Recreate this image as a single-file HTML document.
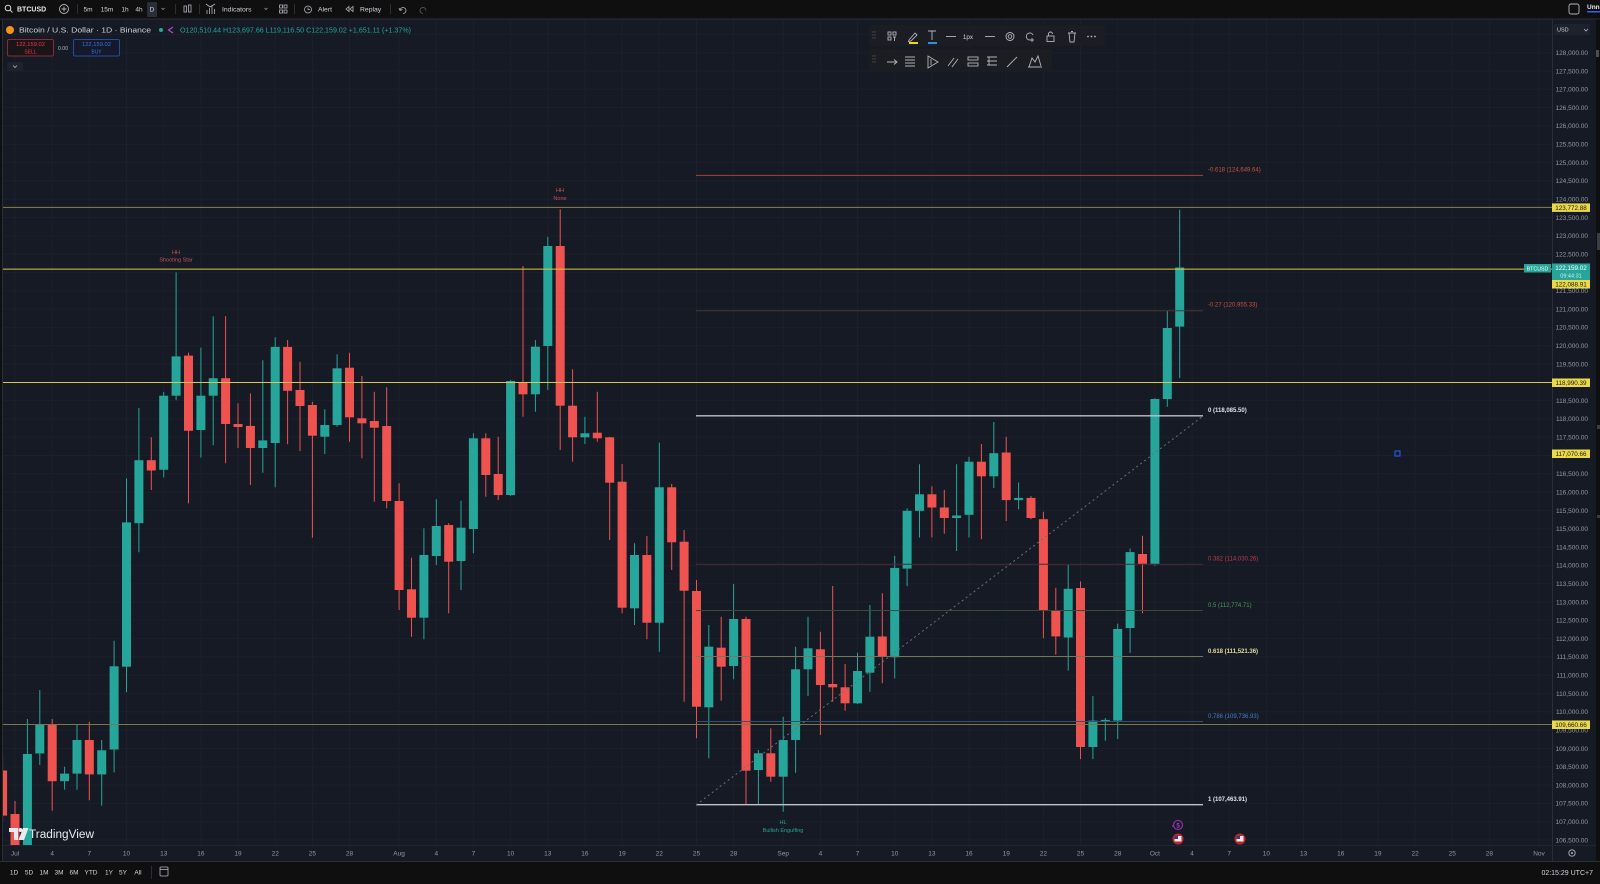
<!DOCTYPE html>
<html><head><meta charset="utf-8"><style>
html,body{margin:0;padding:0;background:#151a25;width:1600px;height:884px;overflow:hidden}
svg{display:block}
text{font-family:"Liberation Sans",sans-serif}
</style></head><body>
<svg width="1600" height="884" viewBox="0 0 1600 884" xmlns="http://www.w3.org/2000/svg">
<defs><clipPath id="cc"><rect x="3" y="19" width="1549" height="826"/></clipPath></defs>
<rect width="1600" height="884" fill="#151a25"/>
<g clip-path="url(#cc)">
<path stroke="#1c202b" stroke-width="1" fill="none" d="M3 16H1552M3 34.4H1552M3 52.7H1552M3 71H1552M3 89.3H1552M3 107.6H1552M3 125.9H1552M3 144.3H1552M3 162.6H1552M3 180.9H1552M3 199.2H1552M3 217.5H1552M3 235.8H1552M3 254.1H1552M3 272.4H1552M3 290.7H1552M3 309H1552M3 327.4H1552M3 345.7H1552M3 364H1552M3 382.3H1552M3 400.6H1552M3 418.9H1552M3 437.2H1552M3 455.5H1552M3 473.8H1552M3 492.1H1552M3 510.5H1552M3 528.8H1552M3 547.1H1552M3 565.4H1552M3 583.7H1552M3 602H1552M3 620.3H1552M3 638.6H1552M3 656.9H1552M3 675.2H1552M3 693.6H1552M3 711.9H1552M3 730.2H1552M3 748.5H1552M3 766.8H1552M3 785.1H1552M3 803.4H1552M3 821.7H1552M3 840H1552"/>
<path stroke="#1c202b" stroke-width="1" fill="none" d="M15 19V845M52.2 19V845M89.3 19V845M126.5 19V845M163.7 19V845M200.9 19V845M238 19V845M275.2 19V845M312.4 19V845M349.5 19V845M399.1 19V845M436.3 19V845M473.4 19V845M510.6 19V845M547.8 19V845M584.9 19V845M622.1 19V845M659.3 19V845M696.5 19V845M733.6 19V845M783.2 19V845M820.4 19V845M857.5 19V845M894.7 19V845M931.9 19V845M969 19V845M1006.2 19V845M1043.4 19V845M1080.5 19V845M1117.7 19V845M1154.9 19V845M1192.1 19V845M1229.2 19V845M1266.4 19V845M1303.6 19V845M1340.7 19V845M1377.9 19V845M1415.1 19V845M1452.2 19V845M1489.4 19V845M1539 19V845"/>

<!-- candles green -->
<path stroke="#26a69a" stroke-width="1" fill="none" d="M27.4 719V845M39.8 690V765M64.6 766.7V789.6M77 724V789.6M101.7 740V805.6M114.1 640.8V772.4M126.5 478.5V692.3M138.9 408V552.2M163.7 391.9V477.4M176.1 272.4V400.3M200.9 347.6V457.6M213.2 316.3V445.3M262.8 360.2V472.8M275.2 337.3V487.3M324.8 409.3V454M337.1 354.3V426.7M423.9 528.3V639.3M436.3 499.3V565M461 500.7V590M473.4 433.3V553.3M510.6 380V496M535.4 340V411.7M547.8 236.7V390M584.9 416.7V444M634.5 543.3V625M659.3 442.7V651.7M708.8 625V758.3M733.6 584V679.3M758.4 750V805M783.2 716.7V811.7M795.6 646.7V772.7M808 616.7V696M857.5 652.7V704M869.9 605V691.7M894.7 555.8V678.5M907.1 508.2V586.2M919.5 464.2V537.5M956.6 464.2V551M969 456.9V537.5M993.8 422V488M1018.6 482.5V509.3M1068.2 565V670.5M1092.9 696.1V759.1M1105.3 718V740.8M1117.7 623.6V739M1130.1 548.5V652.9M1154.9 398.3V565.7M1167.3 310.4V406.7M1179.7 209.7V378"/>
<g fill="#26a69a">
<rect x="22.9" y="754" width="9" height="91"/><rect x="35.3" y="724.7" width="9" height="28.7"/><rect x="60.1" y="773.6" width="9" height="7.6"/><rect x="72.5" y="740" width="9" height="33.6"/><rect x="97.2" y="750.3" width="9" height="24.1"/><rect x="109.6" y="666.3" width="9" height="83.2"/><rect x="122" y="522.4" width="9" height="144.3"/><rect x="134.4" y="460.2" width="9" height="63"/><rect x="159.2" y="395.7" width="9" height="74.1"/><rect x="171.6" y="356.4" width="9" height="39.3"/><rect x="196.4" y="395.7" width="9" height="34.3"/><rect x="208.7" y="378.2" width="9" height="17.5"/><rect x="258.3" y="440.4" width="9" height="7.6"/><rect x="270.7" y="346.9" width="9" height="96.1"/><rect x="320.3" y="425" width="9" height="11.7"/><rect x="332.6" y="368.3" width="9" height="56.7"/><rect x="419.4" y="555" width="9" height="62.7"/><rect x="431.8" y="526" width="9" height="30"/><rect x="456.5" y="527.7" width="9" height="33.3"/><rect x="468.9" y="438.3" width="9" height="90.7"/><rect x="506.1" y="381" width="9" height="114"/><rect x="530.9" y="346.7" width="9" height="47.6"/><rect x="543.3" y="246" width="9" height="100"/><rect x="580.4" y="433.3" width="9" height="4"/><rect x="630" y="555" width="9" height="53.3"/><rect x="654.8" y="487.3" width="9" height="135.4"/><rect x="704.3" y="646.7" width="9" height="60.6"/><rect x="729.1" y="619" width="9" height="47"/><rect x="753.9" y="753.3" width="9" height="16.7"/><rect x="778.7" y="740" width="9" height="36.7"/><rect x="791.1" y="669.3" width="9" height="70.7"/><rect x="803.5" y="648.3" width="9" height="21"/><rect x="853" y="671" width="9" height="32.3"/><rect x="865.4" y="636.7" width="9" height="36"/><rect x="890.2" y="567.9" width="9" height="89.4"/><rect x="902.6" y="510.8" width="9" height="57.8"/><rect x="915" y="494.3" width="9" height="16.5"/><rect x="952.1" y="515.5" width="9" height="2.5"/><rect x="964.5" y="461.7" width="9" height="53.1"/><rect x="989.3" y="453.2" width="9" height="23.1"/><rect x="1014.1" y="497.9" width="9" height="2.2"/><rect x="1063.7" y="588.8" width="9" height="48.7"/><rect x="1088.4" y="720.6" width="9" height="26.4"/><rect x="1100.8" y="719.9" width="9" height="1.5"/><rect x="1113.2" y="629" width="9" height="91.6"/><rect x="1125.6" y="552.1" width="9" height="75.9"/><rect x="1150.4" y="399" width="9" height="164.9"/><rect x="1162.8" y="328" width="9" height="71"/><rect x="1175.2" y="267.5" width="9" height="59.1"/>
</g>
<!-- candles red -->
<path stroke="#ef5350" stroke-width="1" fill="none" d="M2.6 755V822M15 801V845M52.2 719V810.6M89.3 721.7V800.3M151.3 437.3V490M188.5 352.6V503.4M225.6 316.3V463.3M238 403.4V448M250.4 393.4V485M287.6 340V444.2M300 361.7V451M312.4 401.7V537.7M349.5 352.7V441.7M361.9 376V458.3M374.3 391.7V501.7M386.7 387.3V508.3M399.1 483.3V610M411.5 557.7V636.7M448.7 523.3V613.3M485.8 433.3V496.7M498.2 436.7V500M523 266V416.7M560.2 209.3V450M572.6 369.3V461.7M597.3 391.7V441.7M609.7 436.7V540M622.1 464V613.3M646.9 536V639.3M671.7 484V570M684.1 530V701.7M696.5 580V738.3M721.2 616.7V700.7M746 616.7V804M770.8 728.3V781.7M820.4 631.7V735M832.7 586V701.7M845.1 664V710.7M882.3 593.3V683.3M931.9 486.2V537.5M944.3 489.9V533.8M981.4 444V539.3M1006.2 436.8V521M1031 496.1V519.2M1043.4 511.8V638.2M1055.8 587.7V654.7M1080.5 581.4V759.1M1142.5 535.7V613.3"/>
<g fill="#ef5350">
<rect x="-1.9" y="770.5" width="9" height="45.1"/><rect x="10.5" y="814" width="9" height="31"/><rect x="47.7" y="724.7" width="9" height="56.5"/><rect x="84.8" y="740" width="9" height="34.4"/><rect x="146.8" y="460.2" width="9" height="10.3"/><rect x="184" y="355.6" width="9" height="75.2"/><rect x="221.1" y="378.2" width="9" height="45.8"/><rect x="233.5" y="424" width="9" height="3"/><rect x="245.9" y="425.9" width="9" height="22.1"/><rect x="283.1" y="346.9" width="9" height="43.9"/><rect x="295.5" y="390" width="9" height="16"/><rect x="307.9" y="405" width="9" height="30.7"/><rect x="345" y="367.7" width="9" height="49.6"/><rect x="357.4" y="418.3" width="9" height="5"/><rect x="369.8" y="421" width="9" height="6.7"/><rect x="382.2" y="426" width="9" height="75"/><rect x="394.6" y="501" width="9" height="89"/><rect x="407" y="589.3" width="9" height="28.4"/><rect x="444.2" y="525" width="9" height="36.7"/><rect x="481.3" y="438.3" width="9" height="36.7"/><rect x="493.7" y="474" width="9" height="21"/><rect x="518.5" y="382" width="9" height="12.3"/><rect x="555.7" y="246" width="9" height="159.7"/><rect x="568.1" y="405.7" width="9" height="31.6"/><rect x="592.8" y="432.7" width="9" height="5.6"/><rect x="605.2" y="437.3" width="9" height="45.4"/><rect x="617.6" y="481.7" width="9" height="126"/><rect x="642.4" y="555" width="9" height="67.7"/><rect x="667.2" y="487.3" width="9" height="55"/><rect x="679.6" y="541.7" width="9" height="49"/><rect x="692" y="591" width="9" height="115.7"/><rect x="716.7" y="647.7" width="9" height="19"/><rect x="741.5" y="619" width="9" height="151.7"/><rect x="766.3" y="753.3" width="9" height="23.4"/><rect x="815.9" y="649.3" width="9" height="35.7"/><rect x="828.2" y="684" width="9" height="3.3"/><rect x="840.6" y="687.3" width="9" height="16"/><rect x="877.8" y="636.5" width="9" height="19.5"/><rect x="927.4" y="494.3" width="9" height="13.2"/><rect x="939.8" y="507.5" width="9" height="10.5"/><rect x="976.9" y="461.7" width="9" height="14.6"/><rect x="1001.7" y="452.5" width="9" height="47.6"/><rect x="1026.5" y="497.9" width="9" height="20.1"/><rect x="1038.9" y="519.2" width="9" height="90.8"/><rect x="1051.3" y="610" width="9" height="26.4"/><rect x="1076" y="588" width="9" height="159"/><rect x="1138" y="554" width="9" height="9.9"/>
</g>

<!-- horizontal lines -->
<line x1="3" x2="1552" y1="207.4" y2="207.4" stroke="#8a804e" stroke-width="1"/>
<line x1="3" x2="1552" y1="269.1" y2="269.1" stroke="#d9c843" stroke-width="1"/>
<line x1="3" x2="1552" y1="382.5" y2="382.5" stroke="#d9c843" stroke-width="1"/>
<line x1="3" x2="1552" y1="724.5" y2="724.5" stroke="#7a774c" stroke-width="1"/>

<!-- fib -->
<line x1="696" x2="1203" y1="175.4" y2="175.4" stroke="#a8432d" stroke-width="1"/>
<line x1="696" x2="1203" y1="310.7" y2="310.7" stroke="#4a3830" stroke-width="1"/>
<line x1="696" x2="1203" y1="415.8" y2="415.8" stroke="#bfc1c6" stroke-width="1.3"/>
<line x1="696" x2="1203" y1="564.3" y2="564.3" stroke="#4a2a33" stroke-width="1"/>
<line x1="696" x2="1203" y1="610.5" y2="610.5" stroke="#3a4a3d" stroke-width="1"/>
<line x1="696" x2="1203" y1="656.5" y2="656.5" stroke="#77765c" stroke-width="1"/>
<line x1="696" x2="1203" y1="721.5" y2="721.5" stroke="#37506e" stroke-width="1"/>
<line x1="696" x2="1203" y1="804.7" y2="804.7" stroke="#bfc1c6" stroke-width="1.3"/>
<line x1="696" y1="805" x2="1203" y2="416" stroke="#6b6f7a" stroke-width="1" stroke-dasharray="2,3"/>
<g font-size="6" >
<text x="1208" y="171.5" fill="#c8553a">-0.618 (124,649.64)</text>
<text x="1208" y="306.5" fill="#c8553a">-0.27 (120,955.33)</text>
<text x="1208" y="412" fill="#e0e3eb" font-weight="bold">0 (118,085.50)</text>
<text x="1208" y="560.5" fill="#c23a48">0.382 (114,030.26)</text>
<text x="1208" y="607" fill="#4e9a55">0.5 (112,774.71)</text>
<text x="1208" y="653" fill="#e6dc9a" font-weight="bold">0.618 (111,521.36)</text>
<text x="1208" y="718" fill="#3f7fc8">0.786 (109,736.93)</text>
<text x="1208" y="801" fill="#e0e3eb" font-weight="bold">1 (107,463.91)</text>
</g>

<!-- pattern labels -->
<g font-size="5.5" text-anchor="middle">
<text x="176" y="254" fill="#c9505a">HH</text>
<text x="176" y="261.5" fill="#c9505a">Shooting Star</text>
<text x="560" y="192" fill="#c9505a">HH</text>
<text x="560" y="200" fill="#c9505a">None</text>
<text x="783" y="824" fill="#26a69a">HL</text>
<text x="783" y="832" fill="#26a69a">Bullish Engulfing</text>
</g>

<!-- blue square -->
<rect x="1395" y="451" width="5" height="5" fill="#151a25" stroke="#2962ff" stroke-width="1"/>

<!-- events -->
<circle cx="1178" cy="825" r="4.5" fill="#151a25" stroke="#9c27b0" stroke-width="1.2"/>
<text x="1178" y="827.3" font-size="6" fill="#b35ad0" text-anchor="middle">$</text>
<circle cx="1173" cy="826" r="1" fill="#9c27b0"/>
<circle cx="1178" cy="839" r="5" fill="#b22234" stroke="#c62828" stroke-width="1"/>
<rect x="1174.5" y="836" width="7" height="5.5" fill="#e8e8f0"/><rect x="1174.5" y="836" width="3.5" height="3" fill="#3c3b6e"/>
<circle cx="1240" cy="839" r="5" fill="#b22234" stroke="#c62828" stroke-width="1"/>
<rect x="1236.5" y="836" width="7" height="5.5" fill="#e8e8f0"/><rect x="1236.5" y="836" width="3.5" height="3" fill="#3c3b6e"/>

<!-- TV logo -->
<path d="M9 828H18V840H14V832H9Z" fill="#e8eaef"/>
<circle cx="20.5" cy="830" r="2" fill="#e8eaef"/>
<path d="M23 828H28.5L24 840H18.5Z" fill="#e8eaef"/>
<text x="29" y="838" font-size="11.5" fill="#e8eaef" textLength="65" lengthAdjust="spacingAndGlyphs">TradingView</text>
</g>

<!-- left frame -->
<rect x="0" y="0" width="2" height="884" fill="#0f0f0f"/>
<line x1="2.5" y1="19" x2="2.5" y2="861" stroke="#2a2e39"/>

<!-- price axis -->
<line x1="1552.5" y1="19" x2="1552.5" y2="861" stroke="#2a2e39"/>
<line x1="3" y1="845.5" x2="1596" y2="845.5" stroke="#22262f"/>
<g font-size="6.5" fill="#9598a1" text-anchor="end">
<text x="1588" y="55">128,000.00</text><text x="1588" y="73.3">127,500.00</text><text x="1588" y="91.6">127,000.00</text><text x="1588" y="109.9">126,500.00</text><text x="1588" y="128.2">126,000.00</text><text x="1588" y="146.6">125,500.00</text><text x="1588" y="164.9">125,000.00</text><text x="1588" y="183.2">124,500.00</text><text x="1588" y="201.5">124,000.00</text><text x="1588" y="219.8">123,500.00</text><text x="1588" y="238.1">123,000.00</text><text x="1588" y="256.4">122,500.00</text><text x="1588" y="293">121,500.00</text><text x="1588" y="311.3">121,000.00</text><text x="1588" y="329.7">120,500.00</text><text x="1588" y="348">120,000.00</text><text x="1588" y="366.3">119,500.00</text><text x="1588" y="402.9">118,500.00</text><text x="1588" y="421.2">118,000.00</text><text x="1588" y="439.5">117,500.00</text><text x="1588" y="476.1">116,500.00</text><text x="1588" y="494.4">116,000.00</text><text x="1588" y="512.8">115,500.00</text><text x="1588" y="531.1">115,000.00</text><text x="1588" y="549.4">114,500.00</text><text x="1588" y="567.7">114,000.00</text><text x="1588" y="586">113,500.00</text><text x="1588" y="604.3">113,000.00</text><text x="1588" y="622.6">112,500.00</text><text x="1588" y="640.9">112,000.00</text><text x="1588" y="659.2">111,500.00</text><text x="1588" y="677.5">111,000.00</text><text x="1588" y="695.9">110,500.00</text><text x="1588" y="714.2">110,000.00</text><text x="1588" y="732.5">109,500.00</text><text x="1588" y="750.8">109,000.00</text><text x="1588" y="769.1">108,500.00</text><text x="1588" y="787.4">108,000.00</text><text x="1588" y="805.7">107,500.00</text><text x="1588" y="824">107,000.00</text><text x="1588" y="842.3">106,500.00</text>
</g>
<!-- USD box -->
<rect x="1554" y="24" width="36" height="11" fill="#1e222d" rx="1"/>
<text x="1557" y="31.5" font-size="5.5" fill="#d1d4dc">USD</text>
<path d="M1584 29L1586 31L1588 29" stroke="#b2b5be" fill="none" stroke-width="0.8"/>
<!-- tags -->
<g font-size="6.3" text-anchor="middle">
<rect x="1552" y="203.4" width="38" height="8.5" fill="#ebd94a"/><text x="1571" y="210" fill="#131722">123,772.88</text>
<rect x="1524" y="264" width="27" height="8.5" fill="#26a69a"/><text x="1537.5" y="270.3" fill="#ffffff" font-size="5.3">BTCUSD</text>
<rect x="1552" y="263.5" width="38" height="16.5" fill="#26a69a"/><text x="1571" y="270" fill="#ffffff">122,159.02</text><text x="1571" y="277.6" fill="#d7f0ed" font-size="5.5">09:44:31</text>
<rect x="1552" y="280" width="38" height="8.5" fill="#ebd94a"/><text x="1571" y="286.6" fill="#131722">122,088.91</text>
<rect x="1552" y="378.5" width="38" height="8.5" fill="#ebd94a"/><text x="1571" y="385.1" fill="#131722">118,990.39</text>
<rect x="1552" y="449.5" width="38" height="8.5" fill="#ebd94a"/><text x="1571" y="456.1" fill="#131722">117,070.66</text>
<rect x="1552" y="720.5" width="38" height="8.5" fill="#ebd94a"/><text x="1571" y="727.1" fill="#131722">109,660.66</text>
</g>
<!-- right strip -->
<rect x="1596" y="19" width="4" height="842" fill="#0f0f0f"/>
<rect x="1596" y="50" width="3" height="7" fill="#4a4d55"/>
<rect x="1597" y="233" width="3" height="17" fill="#3a3d45"/>
<rect x="1597" y="425" width="3" height="4" fill="#3a3d45"/>
<rect x="1597" y="515" width="3" height="3" fill="#3a3d45"/>

<!-- time axis labels -->
<g font-size="6.5" fill="#9598a1" text-anchor="middle">
<text x="15" y="855.5">Jul</text><text x="52.2" y="855.5">4</text><text x="89.3" y="855.5">7</text><text x="126.5" y="855.5">10</text><text x="163.7" y="855.5">13</text><text x="200.9" y="855.5">16</text><text x="238" y="855.5">19</text><text x="275.2" y="855.5">22</text><text x="312.4" y="855.5">25</text><text x="349.5" y="855.5">28</text><text x="399.1" y="855.5">Aug</text><text x="436.3" y="855.5">4</text><text x="473.4" y="855.5">7</text><text x="510.6" y="855.5">10</text><text x="547.8" y="855.5">13</text><text x="584.9" y="855.5">16</text><text x="622.1" y="855.5">19</text><text x="659.3" y="855.5">22</text><text x="696.5" y="855.5">25</text><text x="733.6" y="855.5">28</text><text x="783.2" y="855.5">Sep</text><text x="820.4" y="855.5">4</text><text x="857.5" y="855.5">7</text><text x="894.7" y="855.5">10</text><text x="931.9" y="855.5">13</text><text x="969" y="855.5">16</text><text x="1006.2" y="855.5">19</text><text x="1043.4" y="855.5">22</text><text x="1080.5" y="855.5">25</text><text x="1117.7" y="855.5">28</text><text x="1154.9" y="855.5">Oct</text><text x="1192.1" y="855.5">4</text><text x="1229.2" y="855.5">7</text><text x="1266.4" y="855.5">10</text><text x="1303.6" y="855.5">13</text><text x="1340.7" y="855.5">16</text><text x="1377.9" y="855.5">19</text><text x="1415.1" y="855.5">22</text><text x="1452.2" y="855.5">25</text><text x="1489.4" y="855.5">28</text><text x="1539" y="855.5">Nov</text>
</g>
<circle cx="1572" cy="853" r="3.2" fill="none" stroke="#b2b5be" stroke-width="0.9"/><circle cx="1572" cy="853" r="1" fill="#b2b5be"/>

<!-- bottom toolbar -->
<rect x="0" y="861" width="1600" height="23" fill="#0f0f0f"/>
<line x1="0" y1="861.5" x2="1600" y2="861.5" stroke="#2a2e39"/>
<g font-size="6.5" fill="#d1d4dc" text-anchor="middle">
<text x="14" y="874.5">1D</text><text x="29" y="874.5">5D</text><text x="44" y="874.5">1M</text><text x="59" y="874.5">3M</text><text x="74" y="874.5">6M</text><text x="91" y="874.5">YTD</text><text x="109" y="874.5">1Y</text><text x="123" y="874.5">5Y</text><text x="138" y="874.5">All</text>
</g>
<line x1="151.5" y1="866" x2="151.5" y2="879" stroke="#2a2e39"/>
<rect x="160" y="867" width="8" height="9" fill="none" stroke="#b2b5be" stroke-width="0.8" rx="1"/>
<line x1="160" y1="869.5" x2="168" y2="869.5" stroke="#b2b5be" stroke-width="0.8"/>
<text x="1593" y="875" font-size="7" fill="#d1d4dc" text-anchor="end">02:15:29 UTC+7</text>

<!-- top toolbar -->
<rect x="0" y="0" width="1600" height="19" fill="#0f0f0f"/>
<line x1="0" y1="19" x2="1600" y2="19" stroke="#2a2e39"/>
<circle cx="8" cy="8" r="2.8" fill="none" stroke="#d1d4dc" stroke-width="1"/>
<line x1="10" y1="10" x2="12.5" y2="12.5" stroke="#d1d4dc" stroke-width="1"/>
<text x="17" y="11.5" font-size="7" font-weight="bold" fill="#e8eaef">BTCUSD</text>
<circle cx="64" cy="9" r="4.5" fill="none" stroke="#b2b5be" stroke-width="0.9"/>
<path d="M64 6.5V11.5M61.5 9H66.5" stroke="#b2b5be" stroke-width="0.9"/>
<g stroke="#2a2e39"><line x1="77.5" y1="4" x2="77.5" y2="14"/><line x1="175.5" y1="4" x2="175.5" y2="14"/><line x1="199.5" y1="4" x2="199.5" y2="14"/><line x1="294.5" y1="4" x2="294.5" y2="14"/><line x1="390.5" y1="4" x2="390.5" y2="14"/></g>
<rect x="147" y="2" width="10" height="15" fill="#2a2e39" rx="1"/>
<g font-size="6.5" fill="#d1d4dc" text-anchor="middle">
<text x="88" y="11.5">5m</text><text x="107" y="11.5">15m</text><text x="125" y="11.5">1h</text><text x="139" y="11.5">4h</text><text x="152" y="11.5">D</text>
</g>
<path d="M161.5 8L163 9.5L164.5 8M264.5 8L266 9.5L267.5 8" stroke="#9598a1" fill="none" stroke-width="0.8"/>
<g stroke="#b2b5be" fill="none" stroke-width="0.8">
<rect x="184" y="6" width="2.5" height="6"/><rect x="188.5" y="5" width="2.5" height="7"/>
<path d="M207 14V10M209.5 14V8M212 14V6M214.5 14V9M206 4L210 7L215 4"/>
<rect x="279.5" y="5" width="3" height="3"/><rect x="284" y="5" width="3" height="3"/><rect x="279.5" y="10" width="3" height="3"/><rect x="284" y="10" width="3" height="3"/>
<circle cx="308" cy="9.5" r="3.5"/><path d="M308 7.5V9.5H310"/>
<path d="M346 9L349 6.5V11.5ZM350 9L353 6.5V11.5Z"/>
<path d="M400 10.5A3 3 0 1 1 403 13.5M400 10.5L399 8M400 10.5L402.5 9.5"/>
</g>
<path d="M426 10.5A3 3 0 1 0 423 13.5" stroke="#5d606b" fill="none" stroke-width="0.8"/>
<g font-size="6.8" fill="#d1d4dc">
<text x="222" y="11.5">Indicators</text><text x="318" y="11.5">Alert</text><text x="360" y="11.5">Replay</text>
</g>
<rect x="1569" y="4" width="10" height="10" rx="2" fill="none" stroke="#b2b5be" stroke-width="0.9"/>
<text x="1587" y="9" font-size="6.5" font-weight="bold" fill="#e8eaef">Unn</text>
<rect x="1587" y="11" width="13" height="1.5" fill="#2962ff"/>

<!-- header -->
<circle cx="10" cy="30" r="4" fill="#f7931a"/>
<text x="19" y="32.5" font-size="7" fill="#d1d4dc" textLength="132" lengthAdjust="spacingAndGlyphs">Bitcoin / U.S. Dollar · 1D · Binance</text>
<circle cx="161" cy="30" r="2" fill="#22ab94"/>
<path d="M173 27L168.5 30L173 33" stroke="#b24ac8" fill="none" stroke-width="1.2"/>
<text x="180" y="32.5" font-size="7" fill="#26a69a" textLength="231" lengthAdjust="spacingAndGlyphs">O120,510.44 H123,697.66 L119,116.50 C122,159.02 +1,651.11 (+1.37%)</text>
<rect x="7.5" y="39.5" width="46" height="16.5" fill="#1a1518" stroke="#8b2a30" rx="1.5"/>
<text x="30.5" y="46" font-size="5.8" fill="#f23645" text-anchor="middle">122,159.02</text>
<text x="30.5" y="53.5" font-size="5" fill="#f23645" text-anchor="middle">SELL</text>
<text x="63" y="50" font-size="5.3" fill="#b2b5be" text-anchor="middle">0.00</text>
<rect x="73.5" y="39.5" width="46" height="16.5" fill="#141a2a" stroke="#2a4aa0" rx="1.5"/>
<text x="96.5" y="46" font-size="5.8" fill="#3d6fe0" text-anchor="middle">122,159.02</text>
<text x="96.5" y="53.5" font-size="5" fill="#3d6fe0" text-anchor="middle">BUY</text>
<rect x="7" y="62" width="16" height="9" fill="#1e222d" rx="1"/>
<path d="M13 65.5L15 67.5L17 65.5" stroke="#b2b5be" fill="none" stroke-width="0.8"/>

<!-- floating drawing toolbar -->
<rect x="869" y="25" width="236" height="21" fill="#1c1d22" rx="3"/>
<rect x="869" y="49" width="183" height="22" fill="#1c1d22" rx="3"/>
<g fill="#4a4d55"><circle cx="873" cy="32" r="0.7"/><circle cx="875" cy="32" r="0.7"/><circle cx="873" cy="35" r="0.7"/><circle cx="875" cy="35" r="0.7"/><circle cx="873" cy="38" r="0.7"/><circle cx="875" cy="38" r="0.7"/><circle cx="873" cy="56" r="0.7"/><circle cx="875" cy="56" r="0.7"/><circle cx="873" cy="59" r="0.7"/><circle cx="875" cy="59" r="0.7"/><circle cx="873" cy="62" r="0.7"/><circle cx="875" cy="62" r="0.7"/></g>
<g stroke="#b2b5be" fill="none" stroke-width="0.9">
<rect x="888" y="32" width="3" height="3"/><rect x="893" y="32" width="3" height="3"/><rect x="888" y="37" width="3" height="3"/><path d="M893 37H896M894.5 37V41"/>
<path d="M909 40L915 33L917 35L911 41L908.5 41.5Z"/>
<path d="M928 31H936M932 31V40"/>
<line x1="946" y1="36.5" x2="956" y2="36.5"/>
<line x1="985" y1="36.5" x2="995" y2="36.5"/>
<circle cx="1010" cy="36.5" r="4"/><circle cx="1010" cy="36.5" r="1.8"/>
<path d="M1033 35A3.5 3.5 0 1 0 1030 40M1032 38V42M1030 40H1034"/>
<rect x="1047" y="36" width="7" height="5.5"/><path d="M1048.5 36V34A2 2 0 0 1 1052.5 34"/>
<path d="M1068 33H1076M1069 33L1070 42H1074L1075 33M1071 31.5H1073"/>
<path d="M887 62H897M894 59.5L897 62L894 64.5"/>
<path d="M905 57H915M905 60H915M905 63H915M905 66H915"/>
<path d="M928 56V68L938 62Z M931 59L931 65"/>
<path d="M948 66L954 58M952 67L958 59"/>
<rect x="968" y="57" width="10" height="3"/><rect x="968" y="63" width="10" height="3"/>
<path d="M987 57H997M987 61H997M987 65H997M989 57V65"/>
<path d="M1007 67L1017 57"/>
<path d="M1029 67L1032 58L1035 62L1038 56L1041 66M1028 67H1042"/>
</g>
<rect x="909" y="42" width="9" height="2" fill="#f5d800"/>
<rect x="928" y="42" width="9" height="2" fill="#2e8fe0"/>
<text x="968" y="39" font-size="6.3" fill="#d1d4dc" text-anchor="middle">1px</text>
<g fill="#b2b5be"><circle cx="1088" cy="36.5" r="0.9"/><circle cx="1091.5" cy="36.5" r="0.9"/><circle cx="1095" cy="36.5" r="0.9"/></g>
</svg>
</body></html>
